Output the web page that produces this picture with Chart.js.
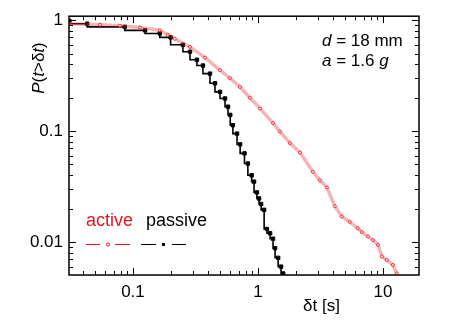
<!DOCTYPE html>
<html>
<head>
<meta charset="utf-8">
<script src="https://cdn.jsdelivr.net/npm/chart.js@4/dist/chart.umd.min.js"></script>
<style>
  html, body { margin: 0; padding: 0; background: #fff; }
  #wrap { width: 474px; height: 322px; }
</style>
</head>
<body>
<div id="wrap"><canvas id="ccdf"></canvas></div>
<script>
// waiting-time distributions
const activeT = [0.031, 0.0545, 0.0787, 0.114, 0.164, 0.19, 0.216, 0.286, 0.377, 0.497, 0.597, 0.718, 0.862, 1.04, 1.32, 1.50, 1.80, 2.17, 2.75, 3.13, 3.56, 4.12, 4.68, 5.42, 6.28, 6.77, 7.59, 8.32, 9.12, 9.79, 10.7, 12.0, 12.9];
const activeP = [0.93, 0.91, 0.89, 0.86, 0.81, 0.74, 0.68, 0.575, 0.46, 0.354, 0.30, 0.25, 0.20, 0.16, 0.118, 0.099, 0.078, 0.064, 0.043, 0.036, 0.031, 0.021, 0.017, 0.0152, 0.0133, 0.0123, 0.0112, 0.0104, 0.0094, 0.0074, 0.0069, 0.0062, 0.0052];

const passiveT = [0.031, 0.043, 0.086, 0.125, 0.164, 0.20, 0.251, 0.286, 0.325, 0.363, 0.413, 0.453, 0.497, 0.545, 0.576, 0.60, 0.63, 0.68, 0.72, 0.78, 0.83, 0.89, 0.93, 0.98, 1.02, 1.06, 1.12, 1.18, 1.25, 1.32, 1.37, 1.45, 1.53, 1.59];
const passiveP = [0.985, 0.93, 0.87, 0.81, 0.76, 0.70, 0.60, 0.52, 0.44, 0.39, 0.33, 0.27, 0.226, 0.197, 0.166, 0.14, 0.113, 0.095, 0.076, 0.063, 0.051, 0.040, 0.035, 0.028, 0.0247, 0.022, 0.0195, 0.0131, 0.012, 0.0107, 0.0088, 0.0072, 0.006, 0.0052];

const xDecades = [0.1, 1, 10];
const yDecades = [0.01, 0.1, 1];
const xLabels = ['0.1', '1', '10'];
const yLabels = ['0.01', '0.1', '1'];

const RED = 'rgb(232,20,28)';
const FONT = '"Liberation Sans", Arial, sans-serif';

function pts(t, p) {
    return t.map((v, i) => ({ x: v, y: p[i] }));
}

function decadeLabel(v, decades, labels) {
    for (let i = 0; i < decades.length; i++) {
        if (Math.abs(v - decades[i]) / decades[i] < 1e-6) return labels[i];
    }
    return '';
}

// text with some italic pieces
function richText(ctx, parts, x, y, size) {
    let cx = x;
    parts.forEach(([s, it]) => {
        ctx.font = (it ? 'italic ' : '') + size + 'px ' + FONT;
        ctx.fillText(s, cx, y);
        cx += ctx.measureText(s).width;
    });
}

function richWidth(ctx, parts, size) {
    let w = 0;
    parts.forEach(([s, it]) => {
        ctx.font = (it ? 'italic ' : '') + size + 'px ' + FONT;
        w += ctx.measureText(s).width;
    });
    return w;
}

const frame = {
    id: 'frame',
    afterDraw(chart) {
        const ctx = chart.ctx;
        const a = chart.chartArea;
        ctx.save();
        ctx.strokeStyle = '#000';
        ctx.lineWidth = 1.5;
        ctx.strokeRect(a.left, a.top, a.right - a.left, a.bottom - a.top);

        // inward ticks on all four sides
        ctx.lineWidth = 1;
        const isMinor = v => {
            const m = v / Math.pow(10, Math.floor(Math.log10(v) + 1e-9));
            return Math.abs(m - Math.round(m)) < 1e-6;
        };
        chart.scales.x.ticks.forEach(t => {
            if (!isMinor(t.value)) return;
            const px = Math.round(chart.scales.x.getPixelForValue(t.value)) + 0.5;
            if (px <= a.left + 1 || px >= a.right - 1) return;
            const len = decadeLabel(t.value, xDecades, xLabels) ? 7 : 4;
            ctx.beginPath();
            ctx.moveTo(px, a.bottom); ctx.lineTo(px, a.bottom - len);
            ctx.moveTo(px, a.top); ctx.lineTo(px, a.top + len);
            ctx.stroke();
        });
        chart.scales.y.ticks.forEach(t => {
            if (!isMinor(t.value)) return;
            const py = Math.round(chart.scales.y.getPixelForValue(t.value)) + 0.5;
            if (py <= a.top + 1 || py >= a.bottom - 1) return;
            const len = decadeLabel(t.value, yDecades, yLabels) ? 7 : 4;
            ctx.beginPath();
            ctx.moveTo(a.left, py); ctx.lineTo(a.left + len, py);
            ctx.moveTo(a.right, py); ctx.lineTo(a.right - len, py);
            ctx.stroke();
        });

        // axis titles
        ctx.fillStyle = '#000';
        ctx.textBaseline = 'alphabetic';
        ctx.textAlign = 'left';
        const yt = [['P', true], ['(', false], ['t', true], ['>', false], ['\u03B4', false], ['t', true], [')', false]];
        const w = richWidth(ctx, yt, 17);
        ctx.save();
        ctx.translate(44, 68);
        ctx.rotate(-Math.PI / 2);
        richText(ctx, yt, -w / 2, 0, 17);
        ctx.restore();

        richText(ctx, [['\u03B4t [s]', false]], 303, 311, 17);

        // parameters
        richText(ctx, [['d', true], [' = 18 mm', false]], 322, 46, 17);
        richText(ctx, [['a', true], [' = 1.6 ', false], ['g', true]], 322, 66, 17);

        // legend
        ctx.font = '18px ' + FONT;
        ctx.fillStyle = RED;
        ctx.fillText('active', 86, 226);
        ctx.fillStyle = '#000';
        ctx.fillText('passive', 146, 226);

        const ly = 244.5;
        ctx.lineWidth = 1;
        ctx.strokeStyle = RED;
        ctx.beginPath();
        ctx.moveTo(86, ly); ctx.lineTo(100, ly);
        ctx.moveTo(115, ly); ctx.lineTo(130, ly);
        ctx.stroke();
        ctx.beginPath();
        ctx.arc(108, ly, 1.6, 0, Math.PI * 2);
        ctx.stroke();

        ctx.strokeStyle = '#000';
        ctx.beginPath();
        ctx.moveTo(141, ly); ctx.lineTo(156, ly);
        ctx.moveTo(172, ly); ctx.lineTo(186, ly);
        ctx.stroke();
        ctx.fillStyle = '#000';
        ctx.fillRect(162, ly - 1.5, 3, 3);
        ctx.restore();
    }
};

new Chart(document.getElementById('ccdf'), {
    type: 'line',
    data: {
        datasets: [
            {
                label: 'active',
                data: pts(activeT, activeP),
                borderColor: 'rgba(232,40,48,0.35)',
                borderWidth: 3.5,
                pointStyle: 'circle',
                pointRadius: 1.5,
                pointBorderWidth: 0.8,
                pointBorderColor: RED,
                pointBackgroundColor: 'rgba(255,255,255,0.6)',
                tension: 0
            },
            {
                label: 'passive',
                data: pts(passiveT, passiveP),
                borderColor: '#000',
                borderWidth: 1.6,
                stepped: 'after',
                pointStyle: 'rect',
                pointRadius: 2.4,
                pointBorderWidth: 1,
                pointBorderColor: '#000',
                pointBackgroundColor: '#000'
            }
        ]
    },
    plugins: [frame],
    options: {
        responsive: true,
        maintainAspectRatio: false,
        animation: false,
        layout: { padding: { left: 0, top: 16, right: 55, bottom: 0 } },
        plugins: {
            legend: { display: false },
            tooltip: { enabled: false }
        },
        scales: {
            x: {
                type: 'logarithmic',
                min: 0.0308,
                max: 19.4,
                grid: { display: false, drawTicks: false },
                border: { display: false },
                ticks: {
                    autoSkip: false,
                    maxRotation: 0,
                    padding: 7,
                    color: '#000',
                    font: { family: FONT, size: 17 },
                    callback: v => decadeLabel(v, xDecades, xLabels)
                },
                afterFit: s => { s.height = 47; }
            },
            y: {
                type: 'logarithmic',
                min: 0.00504,
                max: 1.087,
                grid: { display: false, drawTicks: false },
                border: { display: false },
                ticks: {
                    autoSkip: false,
                    padding: 6,
                    color: '#000',
                    font: { family: FONT, size: 17 },
                    callback: v => decadeLabel(v, yDecades, yLabels)
                },
                afterFit: s => { s.width = 69; }
            }
        }
    }
});
</script>
</body>
</html>
